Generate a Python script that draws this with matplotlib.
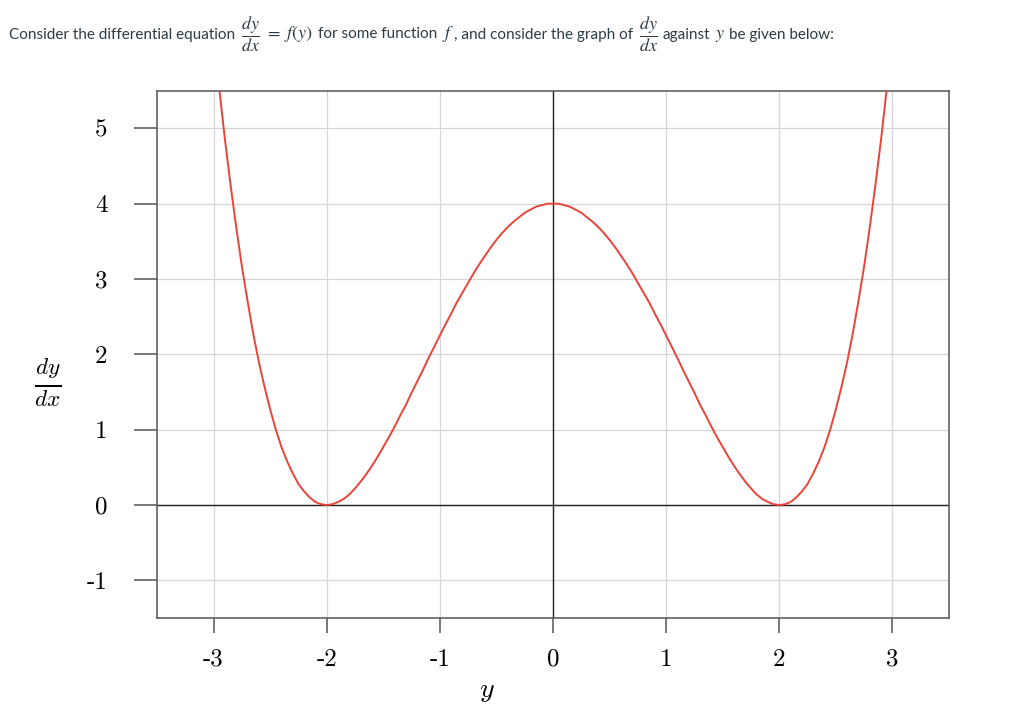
import matplotlib
matplotlib.use("Agg")
import matplotlib.pyplot as plt

# values
y_vals = [-3.0, -2.95, -2.9, -2.85, -2.8, -2.75, -2.7, -2.65, -2.6, -2.55, -2.5,
          -2.45, -2.4, -2.35, -2.3, -2.25, -2.2, -2.15, -2.1, -2.05, -2.0,
          -1.95, -1.9, -1.85, -1.8, -1.75, -1.7, -1.65, -1.6, -1.55, -1.5,
          -1.45, -1.4, -1.35, -1.3, -1.25, -1.2, -1.15, -1.1, -1.05, -1.0,
          -0.95, -0.9, -0.85, -0.8, -0.75, -0.7, -0.65, -0.6, -0.55, -0.5,
          -0.45, -0.4, -0.35, -0.3, -0.25, -0.2, -0.15, -0.1, -0.05, 0.0,
          0.05, 0.1, 0.15, 0.2, 0.25, 0.3, 0.35, 0.4, 0.45, 0.5,
          0.55, 0.6, 0.65, 0.7, 0.75, 0.8, 0.85, 0.9, 0.95, 1.0,
          1.05, 1.1, 1.15, 1.2, 1.25, 1.3, 1.35, 1.4, 1.45, 1.5,
          1.55, 1.6, 1.65, 1.7, 1.75, 1.8, 1.85, 1.9, 1.95, 2.0,
          2.05, 2.1, 2.15, 2.2, 2.25, 2.3, 2.35, 2.4, 2.45, 2.5,
          2.55, 2.6, 2.65, 2.7, 2.75, 2.8, 2.85, 2.9, 2.95, 3.0]
dydx_vals = [6.25, 5.53, 4.86, 4.25, 3.69, 3.17, 2.71, 2.28, 1.90, 1.57, 1.27,
             1.00, 0.77, 0.58, 0.42, 0.28, 0.18, 0.10, 0.04, 0.01, 0.0,
             0.01, 0.04, 0.08, 0.14, 0.22, 0.31, 0.41, 0.52, 0.64, 0.77,
             0.90, 1.04, 1.19, 1.33, 1.49, 1.64, 1.79, 1.95, 2.10, 2.25,
             2.40, 2.54, 2.69, 2.82, 2.95, 3.08, 3.20, 3.31, 3.42, 3.52,
             3.61, 3.69, 3.76, 3.82, 3.88, 3.92, 3.96, 3.98, 4.00, 4.0,
             4.00, 3.98, 3.96, 3.92, 3.88, 3.82, 3.76, 3.69, 3.61, 3.52,
             3.42, 3.31, 3.20, 3.08, 2.95, 2.82, 2.69, 2.54, 2.40, 2.25,
             2.10, 1.95, 1.79, 1.64, 1.49, 1.33, 1.19, 1.04, 0.90, 0.77,
             0.64, 0.52, 0.41, 0.31, 0.22, 0.14, 0.08, 0.04, 0.01, 0.0,
             0.01, 0.04, 0.10, 0.18, 0.28, 0.42, 0.58, 0.77, 1.00, 1.27,
             1.57, 1.90, 2.28, 2.71, 3.17, 3.69, 4.25, 4.86, 5.53, 6.25]
x_ticks = [-3, -2, -1, 0, 1, 2, 3]
x_tick_labels = ["-3", "-2", "-1", "0", "1", "2", "3"]
y_ticks = [-1, 0, 1, 2, 3, 4, 5]
y_tick_labels = ["-1", "0", "1", "2", "3", "4", "5"]

W, H = 1024, 712
fig = plt.figure(figsize=(10.24, 7.12), dpi=100)
ax = fig.add_axes([157/W, 1-618/H, (949-157)/W, (618-90.7)/H])

ax.set_xlim(-3.5, 3.5)
ax.set_ylim(-1.5, 5.5)
ax.set_xticks(x_ticks)
ax.set_yticks(y_ticks)
ax.grid(True, color="#d6d6d6", linewidth=0.9)
ax.set_axisbelow(True)
ax.axhline(0, color="#222222", linewidth=1.0, zorder=2)
ax.axvline(0, color="#222222", linewidth=1.0, zorder=2)
ax.plot(y_vals, dydx_vals, color="#e8443a", linewidth=1.4, zorder=3)

for s in ax.spines.values():
    s.set_color("#555555")
    s.set_linewidth(1.1)

ax.set_xticklabels(x_tick_labels, fontfamily="cmr10", fontsize=18)
ax.set_yticklabels(y_tick_labels, fontfamily="cmr10", fontsize=18)
ax.tick_params(axis="x", direction="out", length=11, width=1.1, color="#555555", pad=11)
ax.tick_params(axis="y", direction="out", length=16.5, width=1.1, color="#555555", pad=19)

fig.text(48/W, 1-383/H, r"$\frac{dy}{dx}$", fontsize=24, math_fontfamily="cm",
         ha="center", va="center")
fig.text(487/W, 1-690/H, r"$y$", fontsize=20, math_fontfamily="cm",
         ha="center", va="center")

# title, assembled piece by piece (each piece placed after the previous one)
tc = "#2d3b45"
renderer = fig.canvas.get_renderer()
base = 1 - 38.5/H
pieces = [
    # (text, kind, gap before in px)
    ("Consider the differential equation", "txt", 0),
    (r"$\dfrac{dy}{dx}$", "frac", 6),
    (r"$=\;f(y)$", "math", 5),
    ("for some function", "txt", 5),
    (r"$f$", "math", 5),
    (", and consider the graph of", "txt", 0),
    (r"$\dfrac{dy}{dx}$", "frac", 6),
    ("against", "txt", 4),
    (r"$y$", "math", 5),
    ("be given below:", "txt", 4),
]
x = 9
for s, kind, gap in pieces:
    x += gap
    if kind == "txt":
        t = fig.text(x/W, base, s, fontfamily="Lato", fontsize=11, color=tc,
                     ha="left", va="baseline")
    elif kind == "math":
        t = fig.text(x/W, base, s, fontsize=13, math_fontfamily="stix", color=tc,
                     ha="left", va="baseline")
    else:
        t = fig.text(x/W, 1-34.5/H, s, fontsize=13, math_fontfamily="stix", color=tc,
                     ha="left", va="center")
    bb = t.get_window_extent(renderer=renderer)
    x = bb.x1

fig.savefig("out.png", dpi=100)
